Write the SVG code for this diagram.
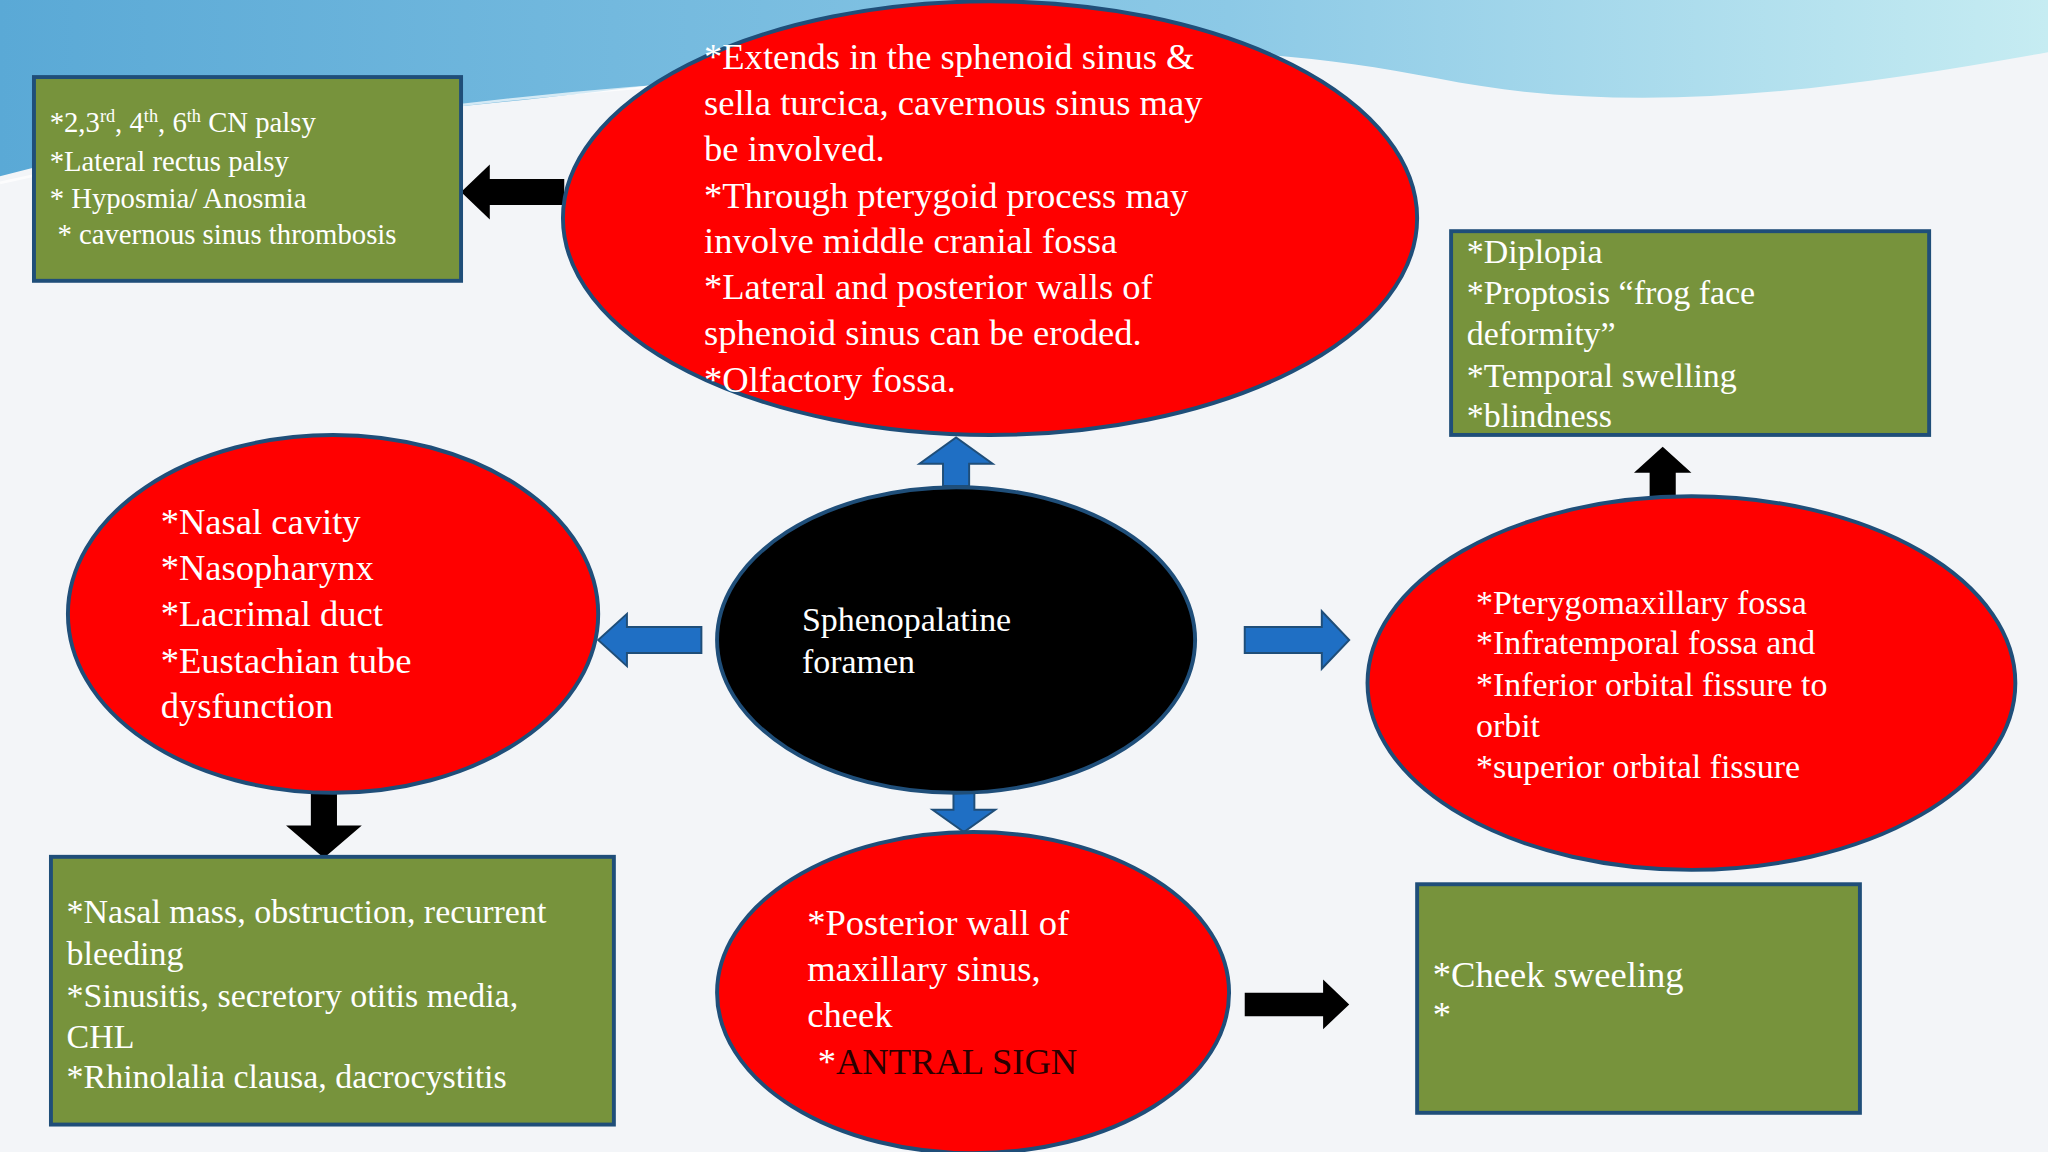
<svg xmlns="http://www.w3.org/2000/svg" width="2048" height="1152" viewBox="0 0 2048 1152">
<defs>
<linearGradient id="sky" x1="0" y1="0" x2="1" y2="0">
<stop offset="0" stop-color="#5aa9d6"/><stop offset="0.6" stop-color="#8cc9e6"/><stop offset="1" stop-color="#c6ecf2"/>
</linearGradient>
<style>
.t{font-family:"Liberation Serif","DejaVu Serif",serif;fill:#fff}
.ell{fill:#ff0000;stroke:#1f4e79;stroke-width:3}
.box{fill:#77933c;stroke:#1f4e79;stroke-width:3}
.blue{fill:#1f6fc4;stroke:#1f4e79;stroke-width:1.5}
.blk{fill:#000}
</style>
</defs>
<g transform="scale(1.30612)">
<rect width="1568" height="882" fill="#f3f5f8"/>
<path d="M0 0H1568V40C1400 70 1250 90 1100 60C900 20 700 40 500 65C300 90 150 95 0 135Z" fill="url(#sky)"/>
<path d="M0 140C200 95 400 70 600 60" fill="none" stroke="#ffffff" stroke-width="2" opacity="0.7"/>
<g id="connectors">
<polygon class="blk" points="432,137 375,137 375,126 353,147 375,168 375,157 432,157"/>
<polygon class="blk" points="1263,382 1263,362 1251,362 1273,342 1295,362 1283,362 1283,382"/>
<polygon class="blk" points="238,607 258,607 258,632 277,632 248,657 219,632 238,632"/>
<polygon class="blk" points="953,760 1013,760 1013,750 1033,769 1013,788 1013,778 953,778"/>
<polygon class="blue" points="722,372 742,372 742,355 760,355 732,335 704,355 722,355"/>
<polygon class="blue" points="537,480 480,480 480,470 458,490 480,510 480,500 537,500"/>
<polygon class="blue" points="953,480 1012,480 1012,468 1033,490 1012,512 1012,500 953,500"/>
<polygon class="blue" points="730,607 746,607 746,620 762,620 738,637 714,620 730,620"/>
</g>
<g id="top-box">
<rect class="box" x="26" y="59" width="327" height="156"/>
<text class="t" font-size="22"><tspan x="38" y="101">*2,3<tspan baseline-shift="super" font-size="14">rd</tspan>, 4<tspan baseline-shift="super" font-size="14">th</tspan>, 6<tspan baseline-shift="super" font-size="14">th</tspan> CN palsy</tspan><tspan x="38" y="131">*Lateral rectus palsy</tspan><tspan x="38" y="159">* Hyposmia/ Anosmia</tspan><tspan x="44" y="187">* cavernous sinus thrombosis</tspan></text>
</g>
<g id="top-ellipse">
<ellipse class="ell" cx="758" cy="167" rx="327" ry="166"/>
<text class="t" font-size="28"><tspan x="539" y="53">*Extends in the sphenoid sinus &amp;</tspan><tspan x="539" y="88">sella turcica, cavernous sinus  may</tspan><tspan x="539" y="123">be involved.</tspan><tspan x="539" y="159">*Through pterygoid process may</tspan><tspan x="539" y="194">involve middle cranial fossa</tspan><tspan x="539" y="229">*Lateral and posterior walls of</tspan><tspan x="539" y="264">sphenoid sinus can be eroded.</tspan><tspan x="539" y="300">*Olfactory fossa.</tspan></text>
</g>
<g id="right-top-box">
<rect class="box" x="1111" y="177" width="366" height="156"/>
<text class="t" font-size="26"><tspan x="1123" y="201">*Diplopia</tspan><tspan x="1123" y="233">*Proptosis “frog face</tspan><tspan x="1123" y="264">deformity”</tspan><tspan x="1123" y="296">*Temporal swelling</tspan><tspan x="1123" y="327">*blindness</tspan></text>
</g>
<g id="left-ellipse">
<ellipse class="ell" cx="255" cy="470" rx="203" ry="137"/>
<text class="t" font-size="28"><tspan x="123" y="409">*Nasal cavity</tspan><tspan x="123" y="444">*Nasopharynx</tspan><tspan x="123" y="479">*Lacrimal duct</tspan><tspan x="123" y="515">*Eustachian tube</tspan><tspan x="123" y="550">dysfunction</tspan></text>
</g>
<g id="center">
<ellipse cx="732" cy="490" rx="183" ry="117" fill="#000" stroke="#1f4e79" stroke-width="3"/>
<text class="t" font-size="26"><tspan x="614" y="483">Sphenopalatine</tspan><tspan x="614" y="515">foramen</tspan></text>
</g>
<g id="right-ellipse">
<ellipse class="ell" cx="1295" cy="523" rx="248" ry="143"/>
<text class="t" font-size="26"><tspan x="1130" y="470">*Pterygomaxillary fossa</tspan><tspan x="1130" y="501">*Infratemporal fossa and</tspan><tspan x="1130" y="533">*Inferior orbital fissure to</tspan><tspan x="1130" y="564">orbit</tspan><tspan x="1130" y="596">*superior orbital fissure</tspan></text>
</g>
<g id="bottom-left-box">
<rect class="box" x="39" y="656" width="431" height="205"/>
<text class="t" font-size="26"><tspan x="51" y="707">*Nasal mass, obstruction, recurrent</tspan><tspan x="51" y="739">bleeding</tspan><tspan x="51" y="771">*Sinusitis, secretory otitis media,</tspan><tspan x="51" y="802">CHL</tspan><tspan x="51" y="833">*Rhinolalia clausa, dacrocystitis</tspan></text>
</g>
<g id="bottom-ellipse">
<ellipse class="ell" cx="745" cy="760" rx="196" ry="123"/>
<text class="t" font-size="28"><tspan x="618" y="716">*Posterior wall of</tspan><tspan x="618" y="751">maxillary sinus,</tspan><tspan x="618" y="786">cheek</tspan><tspan x="626" y="822">*<tspan fill="#2a0000">ANTRAL SIGN</tspan></tspan></text>
</g>
<g id="bottom-right-box">
<rect class="box" x="1085" y="677" width="339" height="175"/>
<text class="t" font-size="28"><tspan x="1097" y="756">*Cheek sweeling</tspan><tspan x="1097" y="786">*</tspan></text>
</g>
</g>
</svg>
